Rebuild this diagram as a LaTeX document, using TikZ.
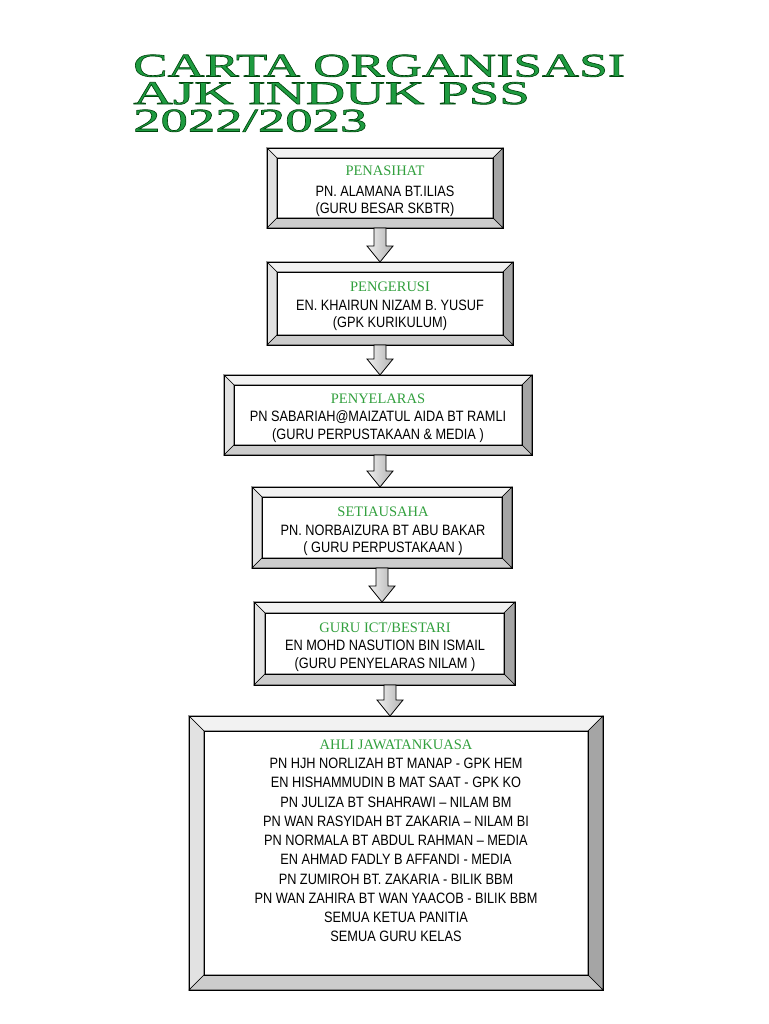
\documentclass[tikz,border=0pt]{standalone}
\usepackage{fontspec}
\setmainfont{Liberation Sans}
\newfontfamily\narrowfont[FakeStretch=0.85]{Liberation Sans}
\newfontfamily\headfont{Liberation Serif}
\newfontfamily\titlefont[FakeStretch=1.56]{Liberation Serif}
\usetikzlibrary{calc}
\definecolor{hgreen}{RGB}{50,160,62}
\definecolor{tgreen}{RGB}{30,155,64}
\definecolor{bvtop}{RGB}{242,242,242}
\definecolor{bvleft}{RGB}{226,226,226}
\definecolor{bvright}{RGB}{165,165,165}
\definecolor{bvbottom}{RGB}{204,204,204}
\tikzset{
  boxnode/.style={draw=none, fill=white, inner sep=0pt, outer sep=0pt},
  bevelline/.style={draw=black, line width=0.6pt, line join=miter},
  boxtext/.style={align=center, inner sep=0pt, font=\narrowfont\fontsize{15}{17.5}\selectfont},
  bigtext/.style={align=center, inner sep=0pt, font=\narrowfont\fontsize{15}{19.25}\selectfont},
  titletext/.style={anchor=north west, align=left, inner sep=0pt, text=tgreen, font=\titlefont\fontsize{33}{27.5}\selectfont},
  blockarrow/.style={draw=black, line width=0.8pt, left color=gray!12, right color=gray!60, line join=miter},
}
\newcommand\hdr[1]{{\headfont\color{hgreen}\fontsize{14.5}{17}\selectfont #1}}
\newcommand\outl{\special{pdf:literal direct 2 Tr 0.65 w 0 0.28 0.05 RG}}
\newcommand\outloff{\special{pdf:literal direct 0 Tr}}
% name, x1, y1, x2, y2, inset
\newcommand\bevelbox[6]{%
  \node[boxnode, minimum width={(#4-#2)*1pt}, minimum height={(#5-#3)*1pt}] (#1) at ({(#2+#4)/2},{(#3+#5)/2}) {};
  \fill[bvtop, bevelline] (#1.north west) -- (#1.north east) -- ($(#1.north east)+(-#6,#6)$) -- ($(#1.north west)+(#6,#6)$) -- cycle;
  \fill[bvleft, bevelline] (#1.north west) -- ($(#1.north west)+(#6,#6)$) -- ($(#1.south west)+(#6,-#6)$) -- (#1.south west) -- cycle;
  \fill[bvright, bevelline] (#1.north east) -- ($(#1.north east)+(-#6,#6)$) -- ($(#1.south east)+(-#6,-#6)$) -- (#1.south east) -- cycle;
  \fill[bvbottom, bevelline] (#1.south west) -- ($(#1.south west)+(#6,-#6)$) -- ($(#1.south east)+(-#6,-#6)$) -- (#1.south east) -- cycle;
  \draw[line width=0.8pt] ($(#1.north west)+(#6,#6)$) rectangle ($(#1.south east)+(-#6,-#6)$);
  \draw[line width=0.9pt] (#1.north west) rectangle (#1.south east);
}
% from, to, x
\newcommand\blockdown[3]{%
  \draw[blockarrow] let \p1=(#1.south), \p2=(#2.north) in
    (#3pt-6pt,\y1) -- (#3pt+6pt,\y1) -- (#3pt+6pt,\y2+16pt) -- (#3pt+13pt,\y2+16pt)
    -- (#3pt,\y2) -- (#3pt-13pt,\y2+16pt) -- (#3pt-6pt,\y2+16pt) -- cycle;
}
\begin{document}
\begin{tikzpicture}[x=1pt,y=-1pt]
\useasboundingbox[fill=white] (0,0) rectangle (768,1024);

% title
\node[titletext] (title) at (133,54.5) {\outl CARTA ORGANISASI\outloff\\
\outl\scalebox{1.067}[1]{AJK INDUK PSS}\outloff\\
\outl\scalebox{1.063}[1]{2022/2023}\outloff};

% boxes
\bevelbox{b1}{267}{148}{503}{228}{10}
\bevelbox{b2}{267}{262}{513}{345}{10}
\bevelbox{b3}{224}{375}{532}{455}{10}
\bevelbox{b4}{252}{487}{512}{568}{10}
\bevelbox{b5}{254}{602}{515}{685}{11}
\bevelbox{b6}{189}{716}{603}{990}{15}

% texts
\node[boxtext] (b1t) at (385,191.5) {\hdr{PENASIHAT}\\[3pt] PN. ALAMANA BT.ILIAS\\ (GURU BESAR SKBTR)};
\node[boxtext] (b2t) at (390,306.5) {\hdr{PENGERUSI}\\[1pt] EN. KHAIRUN NIZAM B. YUSUF\\ (GPK KURIKULUM)};
\node[boxtext] (b3t) at (378,418) {\hdr{PENYELARAS}\\[1pt] PN SABARIAH@MAIZATUL AIDA BT RAMLI\\ (GURU PERPUSTAKAAN \& MEDIA )};
\node[boxtext] (b4t) at (383,531.5) {\hdr{SETIAUSAHA}\\[1pt] PN. NORBAIZURA BT ABU BAKAR\\ ( GURU PERPUSTAKAAN )};
\node[boxtext] (b5t) at (385,647) {\hdr{GURU ICT/BESTARI}\\[1pt] EN MOHD NASUTION BIN ISMAIL\\ (GURU PENYELARAS NILAM )};
\node[bigtext] (b6t) at (396,841) {\hdr{AHLI JAWATANKUASA}\\
PN HJH NORLIZAH BT MANAP - GPK HEM\\
EN HISHAMMUDIN B MAT SAAT - GPK KO\\
PN JULIZA BT SHAHRAWI – NILAM BM\\
PN WAN RASYIDAH BT ZAKARIA – NILAM BI\\
PN NORMALA BT ABDUL RAHMAN – MEDIA\\
EN AHMAD FADLY B AFFANDI - MEDIA\\
PN ZUMIROH BT. ZAKARIA - BILIK BBM\\
PN WAN ZAHIRA BT WAN YAACOB - BILIK BBM\\
SEMUA KETUA PANITIA\\
SEMUA GURU KELAS};

% arrows
\blockdown{b1}{b2}{380}
\blockdown{b2}{b3}{380}
\blockdown{b3}{b4}{380}
\blockdown{b4}{b5}{382}
\blockdown{b5}{b6}{390}
\end{tikzpicture}
\end{document}
